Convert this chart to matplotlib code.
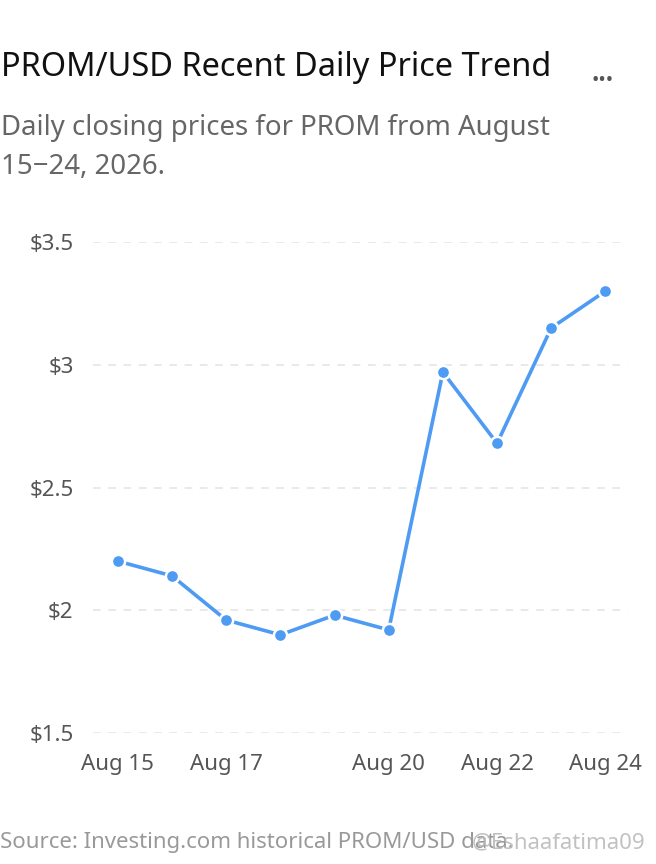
import numpy as np
import pandas as pd
import matplotlib
matplotlib.use('Agg')
import matplotlib.pyplot as plt
import matplotlib.dates as mdates
from matplotlib.ticker import FixedLocator, FuncFormatter

plt.rcParams['font.family'] = ['Noto Sans', 'DejaVu Sans']

# daily closing prices, Aug 15-24 2026
dates = pd.date_range('2026-08-15', '2026-08-24', freq='D')
prices = [2.20, 2.14, 1.96, 1.90, 1.98, 1.92, 2.97, 2.68, 3.15, 3.30]

tick_days = ['2026-08-15', '2026-08-17', '2026-08-20', '2026-08-22', '2026-08-24']
y_ticks = [1.5, 2.0, 2.5, 3.0, 3.5]

title = 'PROM/USD Recent Daily Price Trend'
subtitle = ['Daily closing prices for PROM from August', '15\u221224, 2026.']
source = 'Source: Investing.com historical PROM/USD data.'

blue = '#4e9bf4'

fig = plt.figure(figsize=(6.56, 8.64), dpi=100)
ax = fig.add_axes([93/656, 1-733/864, 535/656, 491/864])

ax.plot(dates, prices, color=blue, lw=2.6, zorder=3,
        marker='o', ms=9.5, mfc=blue, mec='white', mew=1.8, clip_on=False)

# axis ranges
ax.set_ylim(1.5, 3.5)
ax.set_xlim(dates[0] - pd.Timedelta(hours=11), dates[-1] + pd.Timedelta(hours=10))

ax.yaxis.set_major_locator(FixedLocator(y_ticks))
ax.yaxis.set_major_formatter(FuncFormatter(lambda v, p: '$' + ('%g' % v)))
ax.xaxis.set_major_locator(FixedLocator(mdates.date2num(pd.to_datetime(tick_days))))
ax.xaxis.set_major_formatter(mdates.DateFormatter('%b %d'))

ax.grid(axis='y', color='#e3e3e3', lw=1.1, ls=(0, (5, 5)))
ax.set_axisbelow(True)
for s in ax.spines.values():
    s.set_visible(False)
ax.tick_params(axis='both', length=0, labelsize=16, labelcolor='#555555')
ax.tick_params(axis='y', pad=14)
ax.tick_params(axis='x', pad=15)

# header
fig.text(0.002, 1-76/864, title, fontsize=23.4, color='#111111', va='baseline')
fig.text(0.002, 1-135/864, subtitle[0], fontsize=19.9, color='#666666', va='baseline')
fig.text(0.002, 1-174/864, subtitle[1], fontsize=19.9, color='#666666', va='baseline')
fig.text(603/656, 1-86/864, '\u2022\u2022\u2022', fontsize=14, color='#555555',
         ha='center', va='baseline')

# footer
fig.text(0.0, 1-848/864, source, fontsize=16, color='#999999', va='baseline')
fig.text(472/656, 1-848/864, '@Eshaafatima09', fontsize=16, color='#bbbbbb',
         va='baseline', alpha=0.9)

fig.savefig('out.png', dpi=100, facecolor='white')
